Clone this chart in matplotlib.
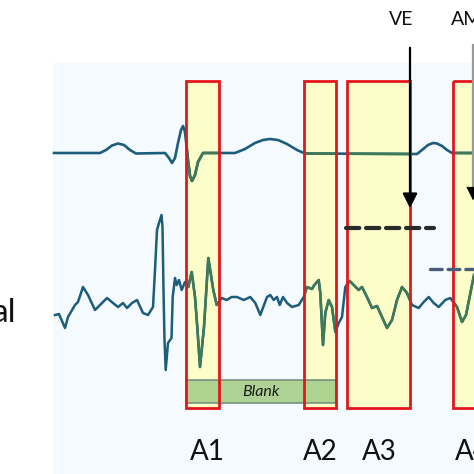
import matplotlib
matplotlib.use("Agg")
import matplotlib.pyplot as plt
from matplotlib.patches import Rectangle

plt.rcParams['font.family'] = ['Lato', 'DejaVu Sans']

# surface signal (pixel coords of the crop, y grows downward)
top_x = [54, 100, 106, 112, 118, 124, 130, 136, 165, 169, 172, 175, 178, 181, 183, 185,
         188, 190, 192, 195, 198, 203, 235, 245, 255, 263, 270, 278, 287, 297, 305,
         417, 422, 428, 433, 437, 442, 447, 452, 474]
top_y = [153, 153, 150, 145.5, 143.5, 145, 150, 153.5, 153, 158, 163, 158, 143, 130, 126, 132,
         160, 176, 181, 175, 162, 153, 153, 149, 143, 140, 139, 140, 144, 150, 153.5,
         154, 150, 145, 143, 143.5, 146, 150, 153, 153]

# intracardiac signal
bot_x = [55, 59, 65, 68, 75, 78, 83, 88, 95, 100, 107, 113, 118, 123, 127, 132, 137, 143,
         148, 153, 155, 157, 159, 161.5, 162.5, 163.5, 164.5, 165.7, 168, 171.5, 172.7, 175,
         176.7, 179, 181.7, 185, 188.3, 191.7, 195, 197.5, 200, 204, 208.3, 213.3, 216.7,
         221.7, 226.7, 231.7, 237, 243.7, 250.3, 255.3, 260.3, 267, 270.3, 273.7, 277,
         279.7, 283, 287, 292, 298.7, 303.7, 307, 312, 314.3, 318.7, 320.3, 323, 325.3,
         328.7, 332, 335.3, 338.7, 342, 345.3, 349.7, 353.7, 358.7, 362, 367, 372, 377,
         382, 387, 392, 397, 402, 407, 412, 418.7, 423.7, 428.7, 433.7, 438.7, 445.3,
         450.3, 457, 462, 466, 470, 474]
bot_y = [315, 314, 328, 317, 305, 302, 287, 295, 310, 305, 298, 303, 307, 303, 308, 303, 300, 313,
         315, 307, 270, 230, 223, 215, 227, 290, 340, 370, 343, 338, 297, 278,
         285, 280, 290, 282, 287, 272, 297, 330, 367, 327, 258, 290, 305,
         298, 300, 297, 297, 300, 297, 303, 315, 297, 295, 300, 297,
         305, 297, 303, 307, 305, 297, 287, 289, 285, 280, 293, 345, 313,
         300, 307, 332, 323, 317, 287, 281, 285, 290, 287, 297, 308, 306,
         317, 328, 320, 300, 287, 293, 305, 308, 302, 297, 303, 307, 300,
         298, 307, 322, 315, 295, 275]

# analysis windows
win_names = ["A1", "A2", "A3", "A4"]
win_start = [186, 304, 347, 453]
win_end = [219, 336, 410, 490]
label_x = [207, 320, 379, 472]

blank_start = 186
blank_end = 336

fig = plt.figure(figsize=(4.74, 4.74), dpi=100)
ax = fig.add_axes([0, 0, 1, 1])
ax.set_xlim(0, 474)
ax.set_ylim(474, 0)
ax.axis('off')

# light blue panel
ax.add_patch(Rectangle((53, 63), 430, 420, facecolor='#f4fafd', edgecolor='none', zorder=0))

for s, e in zip(win_start, win_end):
    ax.add_patch(Rectangle((s, 81), e - s, 327, facecolor='#fcfdc8', edgecolor='none', zorder=1))

# blank period
ax.add_patch(Rectangle((blank_start, 380), blank_end - blank_start, 23,
                       facecolor='#a8cf8c', edgecolor='#6f8b7c', lw=1.2, alpha=0.92, zorder=1.5))
ax.text((blank_start + blank_end) / 2, 392, "Blank", style='italic', fontsize=11.5,
        ha='center', va='center', color='#1a1a1a', zorder=5)

ax.plot(top_x, top_y, color='#1c5d7c', lw=1.9, zorder=2, solid_joinstyle='round')
ax.plot(bot_x, bot_y, color='#1c5d7c', lw=1.8, zorder=2, solid_joinstyle='round')

# signal looks green where it crosses a window
for s, e in zip(win_start, win_end):
    clip = Rectangle((s, 81), e - s, 327, transform=ax.transData)
    for xs, ys, w in [(top_x, top_y, 1.9), (bot_x, bot_y, 1.8)]:
        ln, = ax.plot(xs, ys, color='#3f7a57', lw=w, zorder=2.5, solid_joinstyle='round')
        ln.set_clip_path(clip)

for s, e in zip(win_start, win_end):
    ax.add_patch(Rectangle((s, 81), e - s, 327, facecolor='none', edgecolor='#e4161c',
                           lw=2.0, zorder=4))

for name, lx in zip(win_names, label_x):
    ax.text(lx, 452, name, fontsize=20, ha='center', va='center', color='#111111')

# thresholds
ax.plot([346, 434], [228, 228], color='#2a2a2a', lw=3, ls=(0, (3.2, 1.6)),
        dash_capstyle='round', zorder=5)
ax.plot([430, 480], [269, 269], color='#4a5c7e', lw=2.4, ls=(0, (3.5, 1.8)),
        dash_capstyle='round', zorder=5)

# markers
ax.annotate('', xy=(410, 211), xytext=(410, 45),
            arrowprops=dict(arrowstyle='-|>', color='black', lw=1.6, mutation_scale=22),
            zorder=6)
ax.plot([473, 473], [45, 195], color='#999999', lw=1.6, zorder=6)
ax.annotate('', xy=(473, 203), xytext=(473, 185),
            arrowprops=dict(arrowstyle='-|>', color='black', lw=0.5, mutation_scale=22),
            zorder=6)
ax.text(401, 19, "VE", fontsize=14, ha='center', va='center', color='#111111')
ax.text(451, 19, "AM", fontsize=14, ha='left', va='center', color='#111111')

ax.text(17, 313, "al", fontsize=24, ha='right', va='center', color='#111111')

fig.savefig("out.png", dpi=100)
